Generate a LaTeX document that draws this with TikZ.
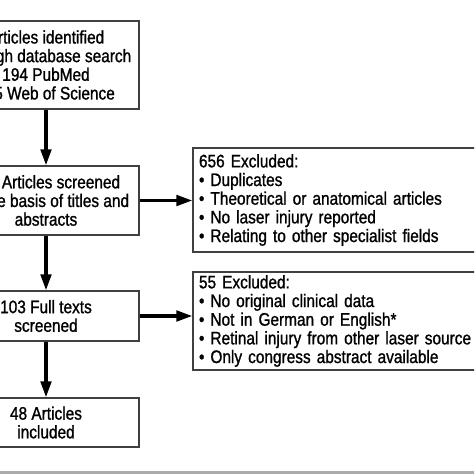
\documentclass[tikz,border=0pt]{standalone}
\usepackage{fontspec}
\setmainfont{Liberation Sans}[FakeStretch=0.85,FakeBold=1.1]
\usetikzlibrary{arrows.meta}
\begin{document}
\begin{tikzpicture}[x=0.75pt,y=-0.75pt,
  box/.style={draw=black!75,line width=1.1pt,fill=white,inner sep=0pt,
    font=\fontsize{13.6pt}{14pt}\selectfont,align=center,minimum width=139.5pt},
  exbox/.style={draw=black!75,line width=1.1pt,fill=white,inner xsep=4.5pt,inner ysep=0pt,
    font=\fontsize{13.6pt}{14pt}\selectfont,align=left,minimum width=230.25pt,text width=221.25pt},
  arr/.style={line width=2.3pt,-{Triangle[length=12pt,width=8pt]}}]
\useasboundingbox (0,0) rectangle (474,474);
\clip (0,0) rectangle (474,474);
\fill[black!33] (0,471) rectangle (474,474);
\node[box,minimum height=66pt] (A) at (46,65) {Articles identified\\through database search\\194 PubMed\\565 Web of Science};
\node[box,minimum height=51.75pt] (B) at (46,200.5) {759 Articles screened\\on the basis of titles and\\abstracts};
\node[box,minimum height=37.5pt] (C) at (46,316) {103 Full texts\\screened};
\node[box,minimum height=36.75pt] (D) at (46,422.5) {48 Articles\\included};
\node[exbox,minimum height=78pt] (E) at (346.5,200) {656 Excluded:\\\textbullet\ Duplicates\\\textbullet\ Theoretical or anatomical articles\\\textbullet\ No laser injury reported\\\textbullet\ Relating to other specialist fields};
\node[exbox,minimum height=73.5pt] (F) at (346.5,321) {55 Excluded:\\\textbullet\ No original clinical data\\\textbullet\ Not in German or English*\\\textbullet\ Retinal injury from other laser source\\\textbullet\ Only congress abstract available};
\draw[arr] (A.south) -- (B.north);
\draw[arr] (B.south) -- (C.north);
\draw[arr] (C.south) -- (D.north);
\draw[arr] (B.east) -- (B.east -| E.west);
\draw[arr] (C.east) -- (C.east -| F.west);
\end{tikzpicture}
\end{document}
